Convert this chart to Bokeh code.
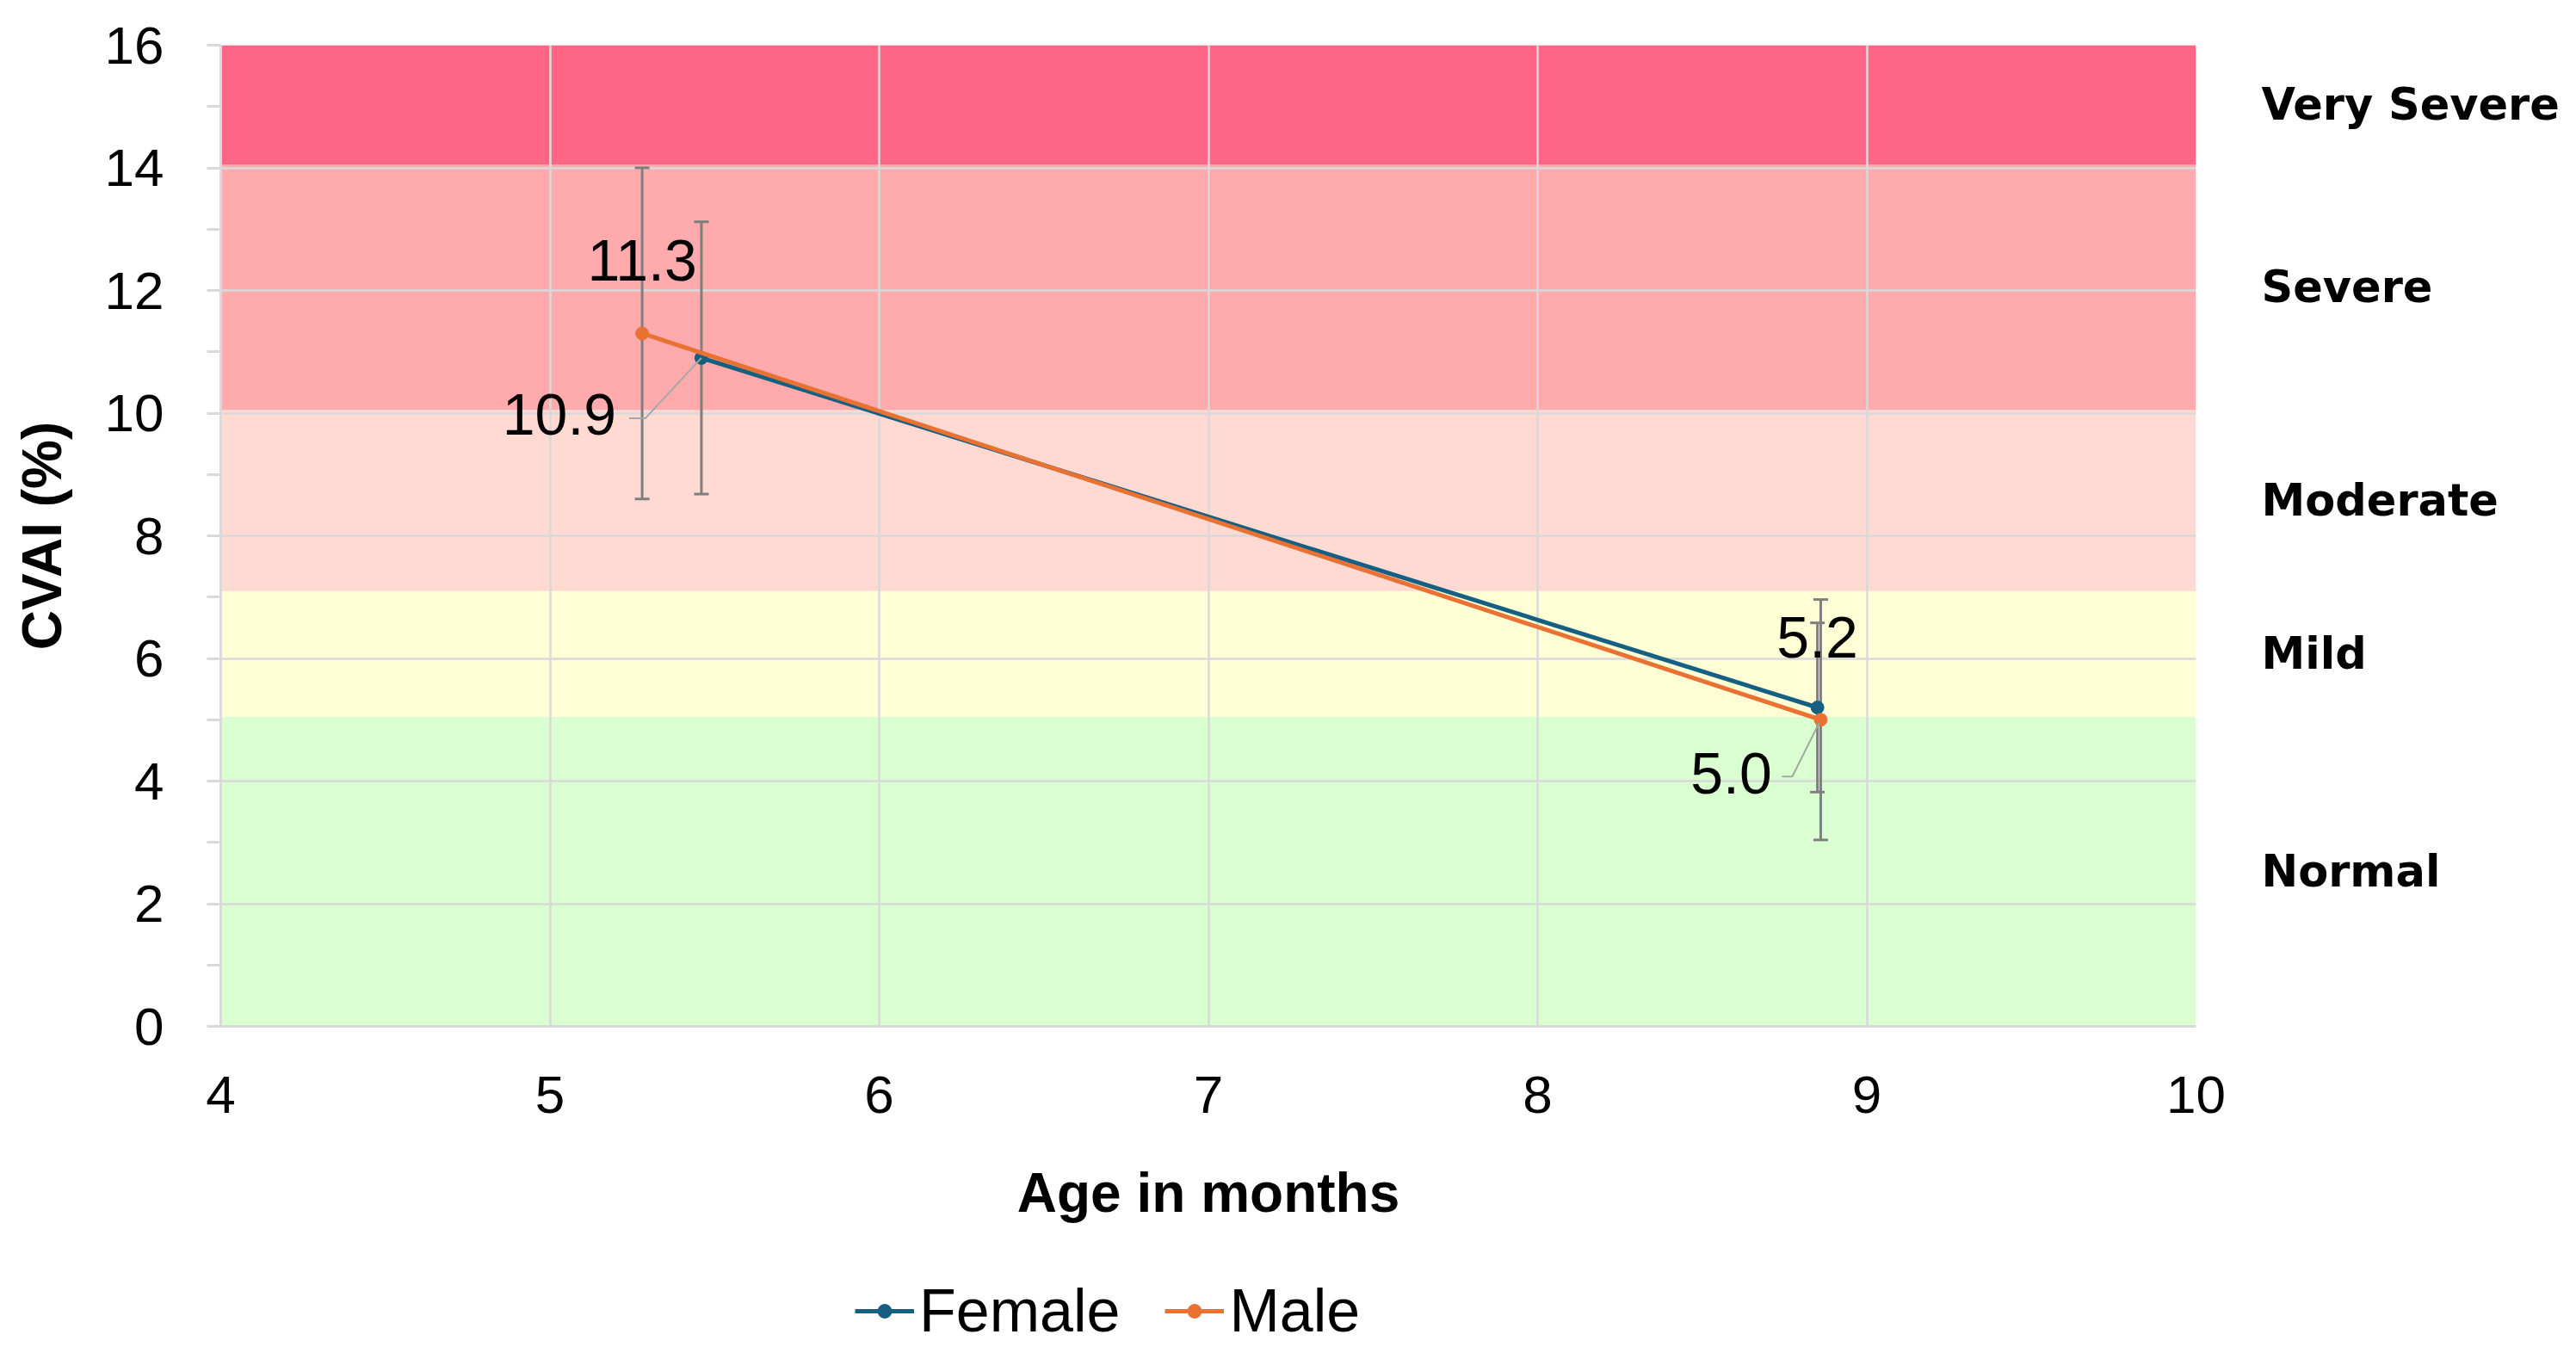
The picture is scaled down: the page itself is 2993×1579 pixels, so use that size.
from bokeh.plotting import figure
from bokeh.layouts import column
from bokeh.models import (ColumnDataSource, Whisker, TeeHead, LinearAxis, FixedTicker,
                          Legend, LegendItem, Range1d)
from bokeh.core.properties import value
from bokeh.embed import file_html
from bokeh.resources import INLINE

# ---------------- data ----------------
age_female = [5.46, 8.85]
cvai_female = [10.9, 5.2]
sd_female = [2.22, 1.38]

age_male = [5.28, 8.86]
cvai_male = [11.3, 5.0]
sd_male = [2.7, 1.96]

series_names = ["Female", "Male"]

band_names = ["Normal", "Mild", "Moderate", "Severe", "Very Severe"]
band_lower = [0.0, 5.05, 7.1, 10.05, 14.05]
band_upper = [5.05, 7.1, 10.05, 14.05, 16.0]
band_colors = ["#DAFFD0", "#FFFFD5", "#FFDAD2", "#FFAAAD", "#FF6685"]

x_ticks = [4, 5, 6, 7, 8, 9, 10]
y_ticks = [0, 2, 4, 6, 8, 10, 12, 14, 16]
y_minor = [1, 3, 5, 7, 9, 11, 13, 15]

# ---------------- layout constants ----------------
W = 2977
H_MAIN, H_LEG = 1446, 117
FL, FR, FT, FB = 256, 2551, 52, 1192
XMIN, XMAX, YMIN, YMAX = 4, 10, 0, 16
xs_px = (FR - FL) / (XMAX - XMIN)
ys_px = (FB - FT) / (YMAX - YMIN)

FEMALE = "#156082"
MALE = "#E97132"
GRID = "#D9D9D9"
ERR = "#7F7F7F"
FONT = "Liberation Sans"

p = figure(width=W, height=H_MAIN, output_backend="svg", toolbar_location=None,
           x_range=Range1d(XMIN, XMAX), y_range=Range1d(YMIN, YMAX),
           min_border_left=FL, min_border_right=W - FR,
           min_border_top=FT, min_border_bottom=H_MAIN - FB)
p.outline_line_color = None
p.background_fill_color = "white"

# severity bands
bands = ColumnDataSource(dict(left=[XMIN] * len(band_names), right=[XMAX] * len(band_names),
                              bottom=band_lower, top=band_upper, color=band_colors))
br = p.quad(left="left", right="right", bottom="bottom", top="top", fill_color="color",
            line_color=None, source=bands)
br.level = "image"

# grids
p.xgrid.ticker = FixedTicker(ticks=x_ticks)
p.ygrid.ticker = FixedTicker(ticks=y_ticks)
for g in (p.xgrid, p.ygrid):
    g.grid_line_color = GRID
    g.grid_line_width = 2.5

# axes
xa = p.xaxis[0]
xa.ticker = FixedTicker(ticks=x_ticks)
xa.axis_label = "Age in months"
xa.major_tick_out = 0
xa.major_tick_in = 0
xa.minor_tick_out = 0
xa.minor_tick_in = 0
xa.major_label_standoff = 58
xa.axis_label_standoff = 54

ya = p.yaxis[0]
ya.ticker = FixedTicker(ticks=y_ticks, minor_ticks=y_minor)
ya.axis_label = "CVAI (%)"
ya.major_tick_out = 16
ya.major_tick_in = 0
ya.minor_tick_out = 16
ya.minor_tick_in = 0
ya.major_label_standoff = 50
ya.axis_label_standoff = 34

for a in (xa, ya):
    a.axis_line_color = GRID
    a.axis_line_width = 3
    a.major_tick_line_color = GRID
    a.major_tick_line_width = 3
    a.minor_tick_line_color = GRID
    a.minor_tick_line_width = 3
    a.major_label_text_font = FONT
    a.major_label_text_font_size = "62px"
    a.major_label_text_color = "black"
    a.axis_label_text_font = FONT
    a.axis_label_text_font_style = "bold"
    a.axis_label_text_font_size = "64px"
    a.axis_label_text_color = "black"

# right axis with band names
centers = [(lo + hi) / 2 for lo, hi in zip(band_lower, band_upper)]
ra = LinearAxis(ticker=FixedTicker(ticks=centers, minor_ticks=[]),
                major_label_overrides={c: n for c, n in zip(centers, band_names)})
ra.axis_line_color = None
ra.major_tick_line_color = None
ra.minor_tick_line_color = None
ra.major_tick_out = 0
ra.major_label_standoff = 76
ra.major_label_text_font = "DejaVu Sans"
ra.major_label_text_font_style = "bold"
ra.major_label_text_font_size = "51px"
ra.major_label_text_color = "black"
p.add_layout(ra, "right")

# error bars
for ages, vals, sds in ((age_female, cvai_female, sd_female), (age_male, cvai_male, sd_male)):
    src = ColumnDataSource(dict(base=ages,
                                upper=[v + s for v, s in zip(vals, sds)],
                                lower=[v - s for v, s in zip(vals, sds)]))
    w = Whisker(source=src, base="base", upper="upper", lower="lower",
                line_color=ERR, line_width=3,
                upper_head=TeeHead(size=17, line_color=ERR, line_width=3),
                lower_head=TeeHead(size=17, line_color=ERR, line_width=3))
    p.add_layout(w)

# series
p.line(age_female, cvai_female, line_color=FEMALE, line_width=5)
p.scatter(age_female, cvai_female, size=15, fill_color=FEMALE, line_color=FEMALE)
p.line(age_male, cvai_male, line_color=MALE, line_width=5)
p.scatter(age_male, cvai_male, size=15, fill_color=MALE, line_color=MALE)

# data labels (pixel offsets from their point)
f_off = [(-165, 66), (0, -82)]
m_off = [(0, -85), (-104, 62)]
for ages, vals, offs in ((age_female, cvai_female, f_off), (age_male, cvai_male, m_off)):
    src = ColumnDataSource(dict(x=ages, y=vals, t=[f"{v:.1f}" for v in vals],
                                dx=[o[0] for o in offs], dy=[o[1] for o in offs]))
    p.text(x="x", y="y", text="t", x_offset="dx", y_offset="dy", source=src,
           text_font=value(FONT), text_font_size="68px", text_color="black",
           text_align="center", text_baseline="middle")

# leader lines for the two offset labels (pixel offsets converted to data units)
leaders = [
    (age_female[0], cvai_female[0], [(-84, 70), (-65, 70), (0, 0)]),
    (age_male[1], cvai_male[1], [(-45, 66), (-33, 66), (-2, 4)]),
]
lx, ly = [], []
for x0, y0, pts in leaders:
    lx.append([x0 + dx / xs_px for dx, dy in pts])
    ly.append([y0 - dy / ys_px for dx, dy in pts])
p.multi_line(lx, ly, line_color="#A6A6A6", line_width=2)

# ---------------- legend strip below the chart ----------------
lp = figure(width=W, height=H_LEG, output_backend="svg", toolbar_location=None,
            x_range=Range1d(0, 1), y_range=Range1d(0, 1),
            min_border_left=FL, min_border_right=W - FR, min_border_top=0, min_border_bottom=0)
lp.axis.visible = False
lp.grid.visible = False
lp.outline_line_color = None
items = []
nan = float("nan")
for name, col in zip(series_names, (FEMALE, MALE)):
    r1 = lp.line(x=[nan, nan], y=[nan, nan], line_color=col, line_width=5)
    r2 = lp.scatter(x=[nan], y=[nan], size=15, fill_color=col, line_color=col)
    items.append(LegendItem(label=name, renderers=[r1, r2]))
legend = Legend(items=items, orientation="horizontal", location=(993 - FL, 0))
legend.label_text_font = FONT
legend.label_text_font_size = "70px"
legend.label_text_color = "black"
legend.glyph_width = 69
legend.glyph_height = 40
legend.label_standoff = 6
legend.spacing = 52
legend.padding = 0
legend.margin = 0
legend.border_line_color = None
legend.background_fill_alpha = 0
lp.add_layout(legend, "center")

layout = column(p, lp, spacing=0)
open("out.html", "w").write(file_html(layout, INLINE))
